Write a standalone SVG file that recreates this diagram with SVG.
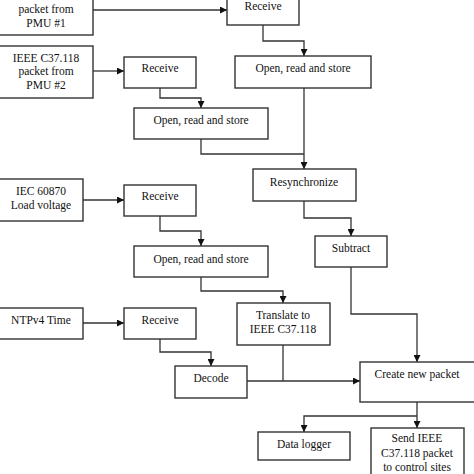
<svg xmlns="http://www.w3.org/2000/svg" width="474" height="474" viewBox="0 0 474 474">
<style>
.b{fill:#fff;stroke:#333;stroke-width:1.4}
.t{font-family:"Liberation Serif","Times New Roman",serif;font-size:11.5px;fill:#111;text-anchor:middle}
.c{fill:none;stroke:#333;stroke-width:1.3}
</style>
<defs>
<marker id="a" viewBox="0 0 10 10" refX="10" refY="5" markerWidth="7" markerHeight="7" markerUnits="userSpaceOnUse" orient="auto"><path d="M0,0L10,5L0,10z" fill="#111"/></marker>
</defs>
<rect width="474" height="474" fill="#fff"/>
<g id="connectors">
<path class="c" d="M93,10H227" marker-end="url(#a)"/>
<path class="c" d="M263,25V41H304V56" marker-end="url(#a)"/>
<path class="c" d="M93,71H124" marker-end="url(#a)"/>
<path class="c" d="M160,88V98H201V108" marker-end="url(#a)"/>
<path class="c" d="M304,88V169" marker-end="url(#a)"/>
<path class="c" d="M201,139V154H304"/>
<path class="c" d="M304,201V218H351V236" marker-end="url(#a)"/>
<path class="c" d="M83,200H124" marker-end="url(#a)"/>
<path class="c" d="M160,216V231H201V246" marker-end="url(#a)"/>
<path class="c" d="M201,277V291H283V303" marker-end="url(#a)"/>
<path class="c" d="M351,267V314H417V362" marker-end="url(#a)"/>
<path class="c" d="M83,323H124" marker-end="url(#a)"/>
<path class="c" d="M160,339V352H211V366" marker-end="url(#a)"/>
<path class="c" d="M247,381H360" marker-end="url(#a)"/>
<path class="c" d="M283,345V381"/>
<path class="c" d="M417,402V428" marker-end="url(#a)"/>
<path class="c" d="M417,416H304V432" marker-end="url(#a)"/>
</g>
<g id="pmu1"><rect class="b" x="-2" y="-22" width="95" height="57"/><text class="t" x="46" y="13">packet from</text><text class="t" x="46" y="27">PMU #1</text></g>
<g id="receive1"><rect class="b" x="227" y="-8" width="72" height="33"/><text class="t" x="263" y="10">Receive</text></g>
<g id="open1"><rect class="b" x="235" y="56" width="136" height="32"/><text class="t" x="303" y="72">Open, read and store</text></g>
<g id="pmu2"><rect class="b" x="-2" y="46" width="95" height="52"/><text class="t" x="46" y="62">IEEE C37.118</text><text class="t" x="46" y="75">packet from</text><text class="t" x="46" y="89">PMU #2</text></g>
<g id="receive2"><rect class="b" x="124" y="57" width="72" height="31"/><text class="t" x="160" y="72">Receive</text></g>
<g id="open2"><rect class="b" x="134" y="108" width="134" height="31"/><text class="t" x="201" y="124">Open, read and store</text></g>
<g id="resync"><rect class="b" x="253" y="169" width="103" height="32"/><text class="t" x="304" y="186">Resynchronize</text></g>
<g id="iec"><rect class="b" x="-2" y="179" width="85" height="42"/><text class="t" x="41" y="195">IEC 60870</text><text class="t" x="41" y="209">Load voltage</text></g>
<g id="receive3"><rect class="b" x="124" y="185" width="72" height="31"/><text class="t" x="160" y="200">Receive</text></g>
<g id="subtract"><rect class="b" x="315" y="236" width="72" height="31"/><text class="t" x="351" y="252">Subtract</text></g>
<g id="open3"><rect class="b" x="134" y="246" width="134" height="31"/><text class="t" x="201" y="263">Open, read and store</text></g>
<g id="translate"><rect class="b" x="237" y="303" width="93" height="42"/><text class="t" x="283" y="319">Translate to</text><text class="t" x="283" y="333">IEEE C37.118</text></g>
<g id="ntp"><rect class="b" x="-2" y="308" width="85" height="31"/><text class="t" x="41" y="324">NTPv4 Time</text></g>
<g id="receive4"><rect class="b" x="124" y="308" width="72" height="31"/><text class="t" x="160" y="324">Receive</text></g>
<g id="decode"><rect class="b" x="175" y="366" width="72" height="32"/><text class="t" x="211" y="382">Decode</text></g>
<g id="create"><rect class="b" x="360" y="362" width="116" height="40"/><text class="t" x="417" y="378">Create new packet</text></g>
<g id="logger"><rect class="b" x="258" y="432" width="92" height="28"/><text class="t" x="304" y="448">Data logger</text></g>
<g id="send"><rect class="b" x="371" y="428" width="93" height="50"/><text class="t" x="417" y="442">Send IEEE</text><text class="t" x="417" y="457">C37.118 packet</text><text class="t" x="417" y="471">to control sites</text></g>
</svg>
